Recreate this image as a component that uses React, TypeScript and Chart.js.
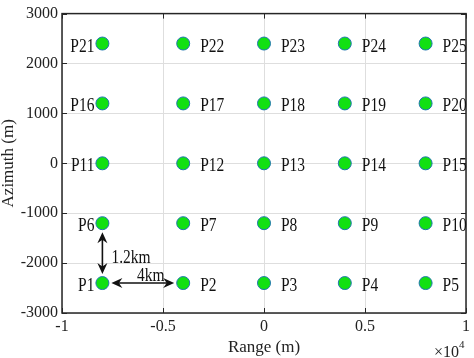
import { useEffect, useRef } from "react";
import { Chart, registerables } from "chart.js";

Chart.register(...registerables);

// ---- data ----
const rangePositions = [-8000, -4000, 0, 4000, 8000];
const azimuthPositions = [-2400, -1200, 0, 1200, 2400];
const pointNames = [
  "P1", "P2", "P3", "P4", "P5",
  "P6", "P7", "P8", "P9", "P10",
  "P11", "P12", "P13", "P14", "P15",
  "P16", "P17", "P18", "P19", "P20",
  "P21", "P22", "P23", "P24", "P25",
];
const xTickValues = [-10000, -5000, 0, 5000, 10000];
const xTickLabels = ["-1", "-0.5", "0", "0.5", "1"];
const yTickValues = [-3000, -2000, -1000, 0, 1000, 2000, 3000];
const spacingArrows = [
  { from: [-8000, -1200], to: [-8000, -2400], text: "1.2km" },
  { from: [-8000, -2400], to: [-4000, -2400], text: "4km" },
];

const SERIF = "\"Liberation Serif\", \"Times New Roman\", serif";

type Pt = { x: number; y: number; name: string; col: number };
const points: Pt[] = [];
azimuthPositions.forEach((y, r) => {
  rangePositions.forEach((x, c) => {
    points.push({ x, y, name: pointNames[r * rangePositions.length + c], col: c });
  });
});

function arrowHead(ctx: CanvasRenderingContext2D, tx: number, ty: number, dx: number, dy: number) {
  const L = 11, W = 5, notch = 3.5;
  const nx = -dy, ny = dx;
  ctx.beginPath();
  ctx.moveTo(tx, ty);
  ctx.lineTo(tx - L * dx + W * nx, ty - L * dy + W * ny);
  ctx.lineTo(tx - (L - notch) * dx, ty - (L - notch) * dy);
  ctx.lineTo(tx - L * dx - W * nx, ty - L * dy - W * ny);
  ctx.closePath();
  ctx.fill();
}

// draw text slightly condensed horizontally, like the reference
function condensedText(ctx: CanvasRenderingContext2D, text: string, x: number, y: number, align: "left" | "right" | "center", sx = 0.9) {
  ctx.save();
  ctx.translate(x, y);
  ctx.scale(sx, 1);
  ctx.textAlign = align;
  ctx.fillText(text, 0, 0);
  ctx.restore();
}

const overlayPlugin = {
  id: "overlay",
  afterDraw(chart: any) {
    const ctx: CanvasRenderingContext2D = chart.ctx;
    const xs = chart.scales.x;
    const ys = chart.scales.y;
    const { left, right, top, bottom } = chart.chartArea;
    ctx.save();
    // box
    ctx.strokeStyle = "#262626";
    ctx.lineWidth = 1.5;
    ctx.strokeRect(left, top, right - left, bottom - top);
    // inward ticks
    ctx.lineWidth = 1;
    const tl = 5;
    xTickValues.forEach((v) => {
      const px = Math.round(xs.getPixelForValue(v)) + 0.5;
      ctx.beginPath();
      ctx.moveTo(px, bottom);
      ctx.lineTo(px, bottom - tl);
      ctx.moveTo(px, top);
      ctx.lineTo(px, top + tl);
      ctx.stroke();
    });
    yTickValues.forEach((v) => {
      const py = Math.round(ys.getPixelForValue(v)) + 0.5;
      ctx.beginPath();
      ctx.moveTo(left, py);
      ctx.lineTo(left + tl, py);
      ctx.moveTo(right, py);
      ctx.lineTo(right - tl, py);
      ctx.stroke();
    });
    // point labels
    ctx.fillStyle = "#111";
    ctx.font = `18px ${SERIF}`;
    ctx.textBaseline = "alphabetic";
    points.forEach((p) => {
      const px = xs.getPixelForValue(p.x);
      const py = ys.getPixelForValue(p.y);
      if (p.col === 0) {
        condensedText(ctx, p.name, px - 8, py + 8, "right", 0.86);
      } else {
        condensedText(ctx, p.name, px + 17, py + 8, "left", 0.86);
      }
    });
    // spacing arrows
    ctx.strokeStyle = "#111";
    ctx.fillStyle = "#111";
    ctx.lineWidth = 1.6;
    spacingArrows.forEach((a) => {
      const x1 = xs.getPixelForValue(a.from[0]);
      const y1 = ys.getPixelForValue(a.from[1]);
      const x2 = xs.getPixelForValue(a.to[0]);
      const y2 = ys.getPixelForValue(a.to[1]);
      const len = Math.hypot(x2 - x1, y2 - y1);
      const dx = (x2 - x1) / len, dy = (y2 - y1) / len;
      const gap = 9;
      const sx = x1 + dx * gap, sy = y1 + dy * gap;
      const ex = x2 - dx * gap, ey = y2 - dy * gap;
      ctx.beginPath();
      ctx.moveTo(sx + dx * 6, sy + dy * 6);
      ctx.lineTo(ex - dx * 6, ey - dy * 6);
      ctx.stroke();
      arrowHead(ctx, ex, ey, dx, dy);
      arrowHead(ctx, sx, sy, -dx, -dy);
      ctx.font = `18px ${SERIF}`;
      if (Math.abs(dx) < 0.5) {
        condensedText(ctx, a.text, x1 + 9, (y1 + y2) / 2 + 10, "left", 0.86);
      } else {
        condensedText(ctx, a.text, (x1 + x2) / 2 + 8, y1 - 2, "center", 0.86);
      }
    });
    // exponent label
    ctx.fillStyle = "#222";
    ctx.font = `16px ${SERIF}`;
    ctx.textAlign = "left";
    ctx.fillText("\u00d710", 434, 357);
    const w = ctx.measureText("\u00d710").width;
    ctx.font = `11px ${SERIF}`;
    ctx.fillText("4", 434 + w, 348);
    ctx.restore();
  },
};

export default function App() {
  const ref = useRef<HTMLCanvasElement | null>(null);
  useEffect(() => {
    document.body.style.margin = "0";
    if (!ref.current) return;
    const chart = new Chart(ref.current, {
      type: "scatter",
      data: {
        datasets: [
          {
            data: points.map((p) => ({ x: p.x, y: p.y })),
            pointRadius: 6.5,
            pointHoverRadius: 6.5,
            backgroundColor: "#12e012",
            borderColor: "#2277b0",
            borderWidth: 1,
          },
        ],
      },
      options: {
        animation: false,
        responsive: false,
        layout: { padding: { top: 5, right: 2, left: 0, bottom: 0 } },
        plugins: { legend: { display: false }, tooltip: { enabled: false } },
        scales: {
          x: {
            type: "linear",
            min: -10000,
            max: 10000,
            afterBuildTicks: (s: any) => {
              s.ticks = xTickValues.map((v) => ({ value: v }));
            },
            afterFit: (s: any) => {
              s.height = 45;
            },
            ticks: {
              autoSkip: false,
              maxRotation: 0,
              padding: 4,
              color: "#222",
              font: { family: SERIF, size: 16 },
              callback: (_v: any, i: number) => xTickLabels[i],
            },
            grid: { color: "#dedede", lineWidth: 1, drawTicks: false },
            border: { display: false },
            title: {
              display: true,
              text: "Range (m)",
              color: "#222",
              font: { family: SERIF, size: 17, lineHeight: 1 },
              padding: { top: 0, bottom: 2 },
            },
          },
          y: {
            type: "linear",
            min: -3000,
            max: 3000,
            afterBuildTicks: (s: any) => {
              s.ticks = yTickValues.map((v) => ({ value: v }));
            },
            afterFit: (s: any) => {
              s.width = 62;
            },
            ticks: {
              autoSkip: false,
              padding: 4,
              color: "#222",
              font: { family: SERIF, size: 16 },
              callback: (v: any) => String(v),
            },
            grid: { color: "#dedede", lineWidth: 1, drawTicks: false },
            border: { display: false },
            title: {
              display: true,
              text: "Azimuth (m)",
              color: "#222",
              font: { family: SERIF, size: 17, lineHeight: 1 },
              padding: { top: 0, bottom: 0 },
            },
          },
        },
      },
      plugins: [overlayPlugin],
    } as any);
    return () => chart.destroy();
  }, []);
  return (
    <div style={{ width: 474, height: 358 }}>
      <canvas ref={ref} width={474} height={358} />
    </div>
  );
}
